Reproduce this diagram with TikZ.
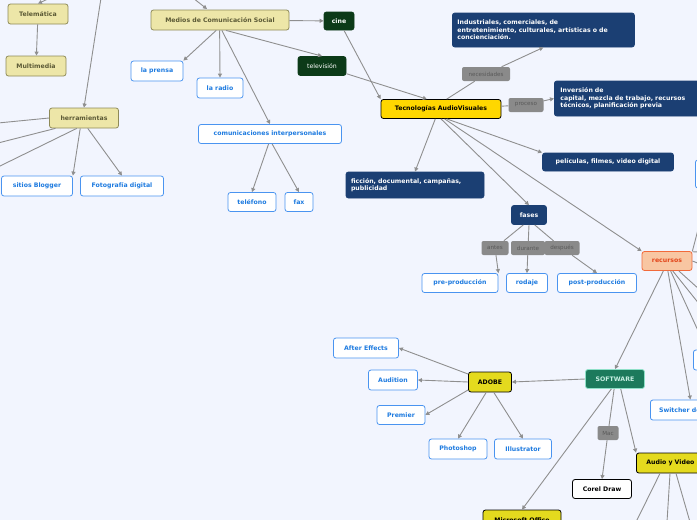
\documentclass[tikz,border=0pt]{standalone}
\usepackage{fontspec}
\setmainfont{DejaVu Sans}
\usetikzlibrary{arrows.meta}
\definecolor{bg}{HTML}{F2F5FE}
\definecolor{olivef}{HTML}{EDE6A8}
\definecolor{oliveb}{HTML}{8E8A58}
\definecolor{olivet}{HTML}{5C5A36}
\definecolor{dgreen}{HTML}{0C3A18}
\definecolor{dblue}{HTML}{1B3F73}
\definecolor{lblue}{HTML}{1E7BE0}
\definecolor{lbb}{HTML}{4A94F0}
\definecolor{gr}{HTML}{8A8A8A}
\definecolor{edge}{HTML}{8F8F8F}
\definecolor{yel}{HTML}{E4DA1E}
\definecolor{gold}{HTML}{FFD700}
\definecolor{softg}{HTML}{1C7A5C}
\definecolor{softb}{HTML}{8FE0C8}
\definecolor{softt}{HTML}{C8F0E4}
\definecolor{recf}{HTML}{F8C6A2}
\definecolor{recb}{HTML}{F26A3A}
\definecolor{rect}{HTML}{E2451A}
\tikzset{
  base/.style={rounded corners=2.5pt, font=\fontsize{6.2}{7.4}\selectfont\bfseries, inner sep=0pt, align=center, line width=0.8pt},
  olive/.style={base, fill=olivef, draw=oliveb, text=olivet},
  wbox/.style={base, fill=white, draw=lbb, text=lblue},
  green/.style={base, fill=dgreen, draw=dgreen, text=white},
  navy/.style={base, fill=dblue, draw=dblue, text=white, align=left},
  lab/.style={rounded corners=2pt, fill=gr, text=black!65, font=\fontsize{5.6}{6.5}\selectfont, inner sep=0pt, minimum height=14pt},
  ybox/.style={base, fill=yel, draw=black, text=black},
  arr/.style={draw=edge, line width=0.9pt, -{Triangle[length=4pt,width=4pt]}},
  ln/.style={draw=edge, line width=0.9pt},
}
\begin{document}
\begin{tikzpicture}[x=1pt,y=-1pt]
\fill[bg] (0,0) rectangle (697,520);
\useasboundingbox (0,0) rectangle (697,520);
% nodes
\node[olive, minimum width=60pt, minimum height=20pt] (tele) at (38,14) {Telemática};
\node[olive, minimum width=60pt, minimum height=20pt] (multi) at (36,66) {Multimedia};
\node[olive, minimum width=69pt, minimum height=20pt] (herr) at (84,118) {herramientas};
\node[wbox, minimum width=71pt, minimum height=20pt] (blog) at (37,186) {sitios Blogger};
\node[wbox, minimum width=83pt, minimum height=20pt] (foto) at (122,186) {Fotografía digital};
\node[olive, minimum width=138pt, minimum height=20pt] (medios) at (220,20) {Medios de Comunicación Social};
\node[green, minimum width=30pt, minimum height=18pt] (cine) at (339,21) {cine};
\node[green, minimum width=48pt, minimum height=19pt, font=\fontsize{6.2}{7.4}\selectfont] (tv) at (322,66) {televisión};
\node[wbox, minimum width=52pt, minimum height=20pt] (prensa) at (157,71) {la prensa};
\node[wbox, minimum width=46pt, minimum height=20pt] (radio) at (220,88) {la radio};
\node[wbox, minimum width=143pt, minimum height=19pt] (cint) at (270,134) {comunicaciones interpersonales};
\node[wbox, minimum width=48pt, minimum height=19pt] (telf) at (252,202) {teléfono};
\node[wbox, minimum width=28pt, minimum height=19pt] (fax) at (299,202) {fax};
\node[ybox, fill=gold, minimum width=120pt, minimum height=19pt] (tav) at (441,109) {Tecnologías AudioVisuales};
\node[lab] (nec) at (486,74) {\makebox[48pt]{necesidades}};
\node[navy, text width=172pt, minimum height=34pt, anchor=west, inner xsep=5pt] (ind) at (452,30) {Industriales, comerciales, de\\entretenimiento, culturales, artísticas o de\\concienciación.};
\node[lab] (proc) at (526,105) {\makebox[35pt]{proceso}};
\node[navy, text width=160pt, minimum height=35pt, anchor=west, inner xsep=6pt] (inv) at (554,98.5) {Inversión de\\capital, mezcla de trabajo, recursos\\técnicos, planificación previa};
\node[navy, minimum width=131pt, minimum height=18pt, align=center] (peli) at (608,162) {películas, filmes, video digital};
\node[navy, text width=128pt, minimum height=26pt, inner xsep=5pt] (fic) at (415,185) {ficción, documental, campañas,\\publicidad};
\node[navy, minimum width=35pt, minimum height=19pt, align=center] (fases) at (529,215) {fases};
\node[lab] (antes) at (495,248) {\makebox[27pt]{antes}};
\node[lab] (dur) at (528,248) {\makebox[34pt]{durante}};
\node[lab] (desp) at (562,248) {\makebox[35pt]{después}};
\node[wbox, minimum width=76pt, minimum height=19pt] (pre) at (460,283) {pre-producción};
\node[wbox, minimum width=41pt, minimum height=19pt] (rod) at (527,283) {rodaje};
\node[wbox, minimum width=79pt, minimum height=19pt] (post) at (597,283) {post-producción};
\node[base, fill=recf, draw=recb, text=rect, minimum width=50pt, minimum height=19pt] (rec) at (667,261) {recursos};
\node[base, fill=softg, draw=softb, text=softt, minimum width=59pt, minimum height=19pt] (soft) at (615,379) {SOFTWARE};
\node[ybox, minimum width=43pt, minimum height=20pt] (adobe) at (490,382) {ADOBE};
\node[wbox, minimum width=65pt, minimum height=20pt] (ae) at (366,348) {After Effects};
\node[wbox, minimum width=49pt, minimum height=20pt] (aud) at (393,380) {Audition};
\node[wbox, minimum width=48pt, minimum height=19pt] (prem) at (401,415) {Premier};
\node[wbox, minimum width=58pt, minimum height=20pt] (ps) at (458,449) {Photoshop};
\node[wbox, minimum width=57pt, minimum height=20pt] (ill) at (523,449) {Illustrator};
\node[lab] (mac) at (608,433) {\makebox[21pt]{Mac}};
\node[base, fill=white, draw=black, text=black, minimum width=59pt, minimum height=19pt] (corel) at (602,489) {Corel Draw};
\node[ybox, minimum width=80pt, minimum height=20pt, anchor=west, inner xsep=6pt] (av) at (636,463) {Audio y Video\hspace{12pt}};
\node[ybox, minimum width=78pt, minimum height=20pt] (ms) at (522,520) {Microsoft Office};
\node[wbox, minimum width=80pt, minimum height=20pt, anchor=west, inner xsep=6pt] (sw) at (650,410) {Switcher de video};
\node[wbox, minimum width=20pt, minimum height=28pt, anchor=west] (rb1) at (695,174) {};
\node[wbox, minimum width=20pt, minimum height=20pt, anchor=west] (rb2) at (693,360) {};
% offscreen coordinates
\coordinate (t0) at (50,-2);
\coordinate (m0) at (193,-2);
\coordinate (h0) at (101,-2);
\coordinate (hl1) at (-2,123);
\coordinate (hl2) at (-2,143);
\coordinate (hl3) at (-2,167);
\coordinate (r1) at (700,222);
\coordinate (r2) at (700,252);
\coordinate (r3) at (700,264);
\coordinate (r4) at (700,290);
\coordinate (r5) at (700,305);
\coordinate (r6) at (700,335);
\coordinate (a1) at (636,522);
\coordinate (a2) at (667,522);
\coordinate (a3) at (690,522);
\coordinate (a4) at (700,476);
% edges
\draw[arr] (t0) -- (tele.north);
\draw[arr] (m0) -- (207,9);
\draw[arr] (h0) -- (herr.north);
\draw[ln] (herr.west) -- (hl1);
\draw[ln] (herr.200) -- (hl2);
\draw[ln] (herr.235) -- (hl3);
\draw[arr] (tele) -- (multi);
\draw[arr] (herr.250) -- (blog.north east);
\draw[arr] (herr.290) -- (foto.north);
\draw[arr] (medios) -- (cine);
\draw[arr] (medios.300) -- (tv.north);
\draw[arr] (medios.250) -- (prensa.north east);
\draw[arr] (medios.268) -- (radio.north);
\draw[arr] (medios.280) -- (cint.north);
\draw[arr] (cint.262) -- (telf.north);
\draw[arr] (cint.282) -- (fax.north);
\draw[arr] (cine) -- (tav.north west);
\draw[arr] (tv) -- (tav.145);
\draw[ln] (tav.60) -- (nec);
\draw[arr] (nec) -- (ind.south);
\draw[ln] (tav) -- (proc);
\draw[arr] (proc) -- (inv.west);
\draw[arr] (tav.300) -- (peli.north west);
\draw[arr] (tav.240) -- (fic.north);
\draw[arr] (tav.270) -- (fases.north);
\draw[arr] (tav.290) -- (rec.north west);
\draw[ln] (fases.240) -- (antes);
\draw[arr] (antes) -- (pre.north east);
\draw[ln] (fases.270) -- (dur);
\draw[arr] (dur) -- (rod.north);
\draw[ln] (fases.300) -- (desp);
\draw[arr] (desp) -- (post.north);
\draw[arr] (rec.250) -- (soft.north);
\draw[arr] (rec.275) -- (sw.north);
\draw[ln] (rec.north east) -- (r1);
\draw[ln] (rec.20) -- (r2);
\draw[ln] (rec.east) -- (r3);
\draw[ln] (rec.320) -- (r4);
\draw[ln] (rec.300) -- (r5);
\draw[ln] (rec.290) -- (r6);
\draw[arr] (soft.west) -- (adobe.east);
\draw[arr] (soft.250) -- (ms.north);
\draw[ln] (soft.265) -- (mac);
\draw[arr] (mac) -- (corel.north);
\draw[arr] (soft.300) -- (av.north west);
\draw[ln] (av.south west) ++(24,0) -- (a1);
\draw[ln] (av.south west) ++(34,0) -- (a2);
\draw[ln] (av.south west) ++(40,0) -- (a3);
\draw[ln] (av.east) -- (a4);
\draw[arr] (adobe.160) -- (ae.east);
\draw[arr] (adobe.west) -- (aud.east);
\draw[arr] (adobe.200) -- (prem.east);
\draw[arr] (adobe.250) -- (ps.north);
\draw[arr] (adobe.290) -- (ill.north);
\end{tikzpicture}
\end{document}
